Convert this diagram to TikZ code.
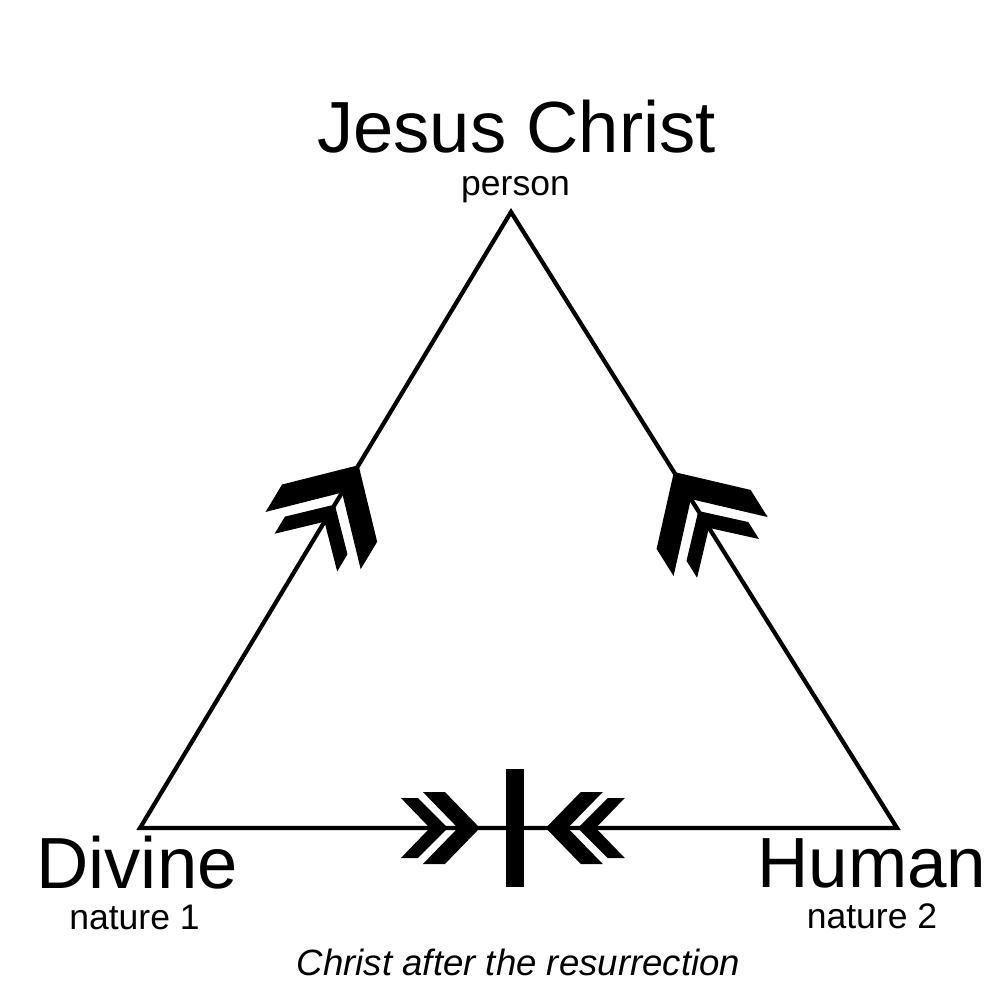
\documentclass[tikz,border=0pt]{standalone}
\usepackage{fontspec}
\setmainfont{Liberation Sans}
\usetikzlibrary{calc}
\tikzset{
  edge/.style={line width=1.2pt, line join=miter},
  bigtext/.style={font=\fontsize{20.6}{24}\selectfont, inner sep=0pt, anchor=base},
  smalltext/.style={font=\fontsize{10.1}{12}\selectfont, inner sep=0pt, anchor=base},
  captiontext/.style={font=\fontsize{10.4}{12}\selectfont\itshape, inner sep=0pt, anchor=base},
  barstyle/.style={fill=black, inner sep=0pt, minimum width=0.18cm, minimum height=1.18cm},
  bchev/.pic={
    \fill (0,0) -- (-35,36) -- (-57,36) -- (-22,0) -- (-57,-36) -- (-35,-36) -- cycle;
    \fill (-32,0) -- (-62,30) -- (-79,30) -- (-50,0) -- (-79,-30) -- (-62,-30) -- cycle;
  },
  dchev/.pic={
    \fill (0,0) -- (-56,55.5) -- (-88,55.5) -- (-32,0) -- (-88,-55.5) -- (-56,-55.5) -- cycle;
    \fill (-46,0) -- (-82,36.5) -- (-102,36.5) -- (-66,0) -- (-102,-36.5) -- (-82,-36.5) -- cycle;
  }
}
\begin{document}
\begin{tikzpicture}[x=0.01cm,y=-0.01cm]
\useasboundingbox (0,0) rectangle (1000,1000);
\coordinate (A) at (511,212);
\coordinate (L) at (140,828);
\coordinate (R) at (897,828);
\draw[edge] (L) -- (A) -- (R) -- cycle;
\pic[rotate=58.94] at ($(L)!0.589!(A)$) {dchev};
\pic[rotate=122.07] at ($(R)!0.578!(A)$) {dchev};
\pic at ($(L)!0.449!(R)$) {bchev};
\pic[rotate=180] at ($(R)!0.464!(L)$) {bchev};
\node[barstyle] (bar) at (515,828) {};
\node[bigtext] (jc) at (516.5,152) {Jesus Christ};
\node[smalltext] (person) at (515.5,195) {person};
\node[bigtext] (divine) at (137,888) {Divine};
\node[smalltext] (n1) at (134.5,929) {nature 1};
\node[bigtext, font=\fontsize{20.2}{24}\selectfont] (human) at (872,887) {Human};
\node[smalltext] (n2) at (872,928) {nature 2};
\node[captiontext] (cap) at (518.5,975) {Christ after the resurrection};
\end{tikzpicture}
\end{document}
